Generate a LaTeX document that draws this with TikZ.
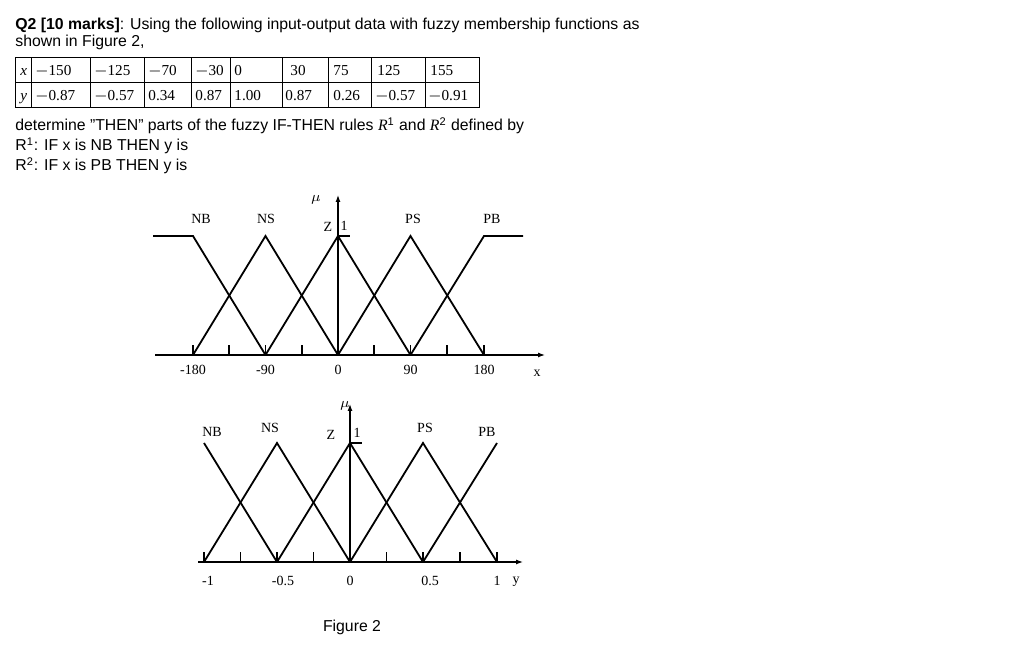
\documentclass[tikz,border=0pt]{standalone}
\usepackage{fontspec}
\setmainfont{Liberation Sans}
\newfontfamily\tnr{Liberation Serif}
\begin{document}
\begin{tikzpicture}[x=0.5pt, y=-0.5pt,
  txt/.style={anchor=base west, inner sep=0pt, font=\fontsize{7.9}{9}\selectfont},
  cell/.style={inner sep=0pt, anchor=base west, font=\tnr\fontsize{7.6}{9}\selectfont},
  mf/.style={line width=0.9pt},
  ax/.style={line width=0.6pt, -{Latex[length=3.5pt,width=2.5pt]}},
  lab/.style={inner sep=0pt, font=\tnr\fontsize{7}{8}\selectfont}
]
\useasboundingbox (0,0) rectangle (1024,656);
\usetikzlibrary{arrows.meta}
% --- question text ---
\node[txt] (l1) at (15,30) {\textbf{Q2 [10 marks]}: Using the following input-output data with fuzzy membership functions as};
\node[txt] (l2) at (15,47) {shown in Figure 2,};
\node[txt] (l3) at (15,131) {determine "THEN" parts of the fuzzy IF-THEN rules {\tnr\itshape R}$^{\mathrm{1}}$ and {\tnr\itshape R}$^{\mathrm{2}}$ defined by};
\node[txt] (l4) at (15,151) {R$^{\mathrm{1}}$: IF x is NB THEN y is};
\node[txt] (l5) at (15,171) {R$^{\mathrm{2}}$: IF x is PB THEN y is};
% --- table ---
\draw[line width=0.5pt] (15,58) rectangle (479,108);
\draw[line width=0.5pt] (15,83) -- (479,83);
\foreach \c in {31,90,144,191,230,282,328,371,425}
  \draw[line width=0.5pt] (\c,58) -- (\c,108);
\node[cell] (x0) at (20,76) {\itshape x};
\node[cell] (y0) at (20,101) {\itshape y};
\foreach \c/\v in {35/$-$150,94/$-$125,148/$-$70,195/$-$30,234/0,290/30,333/75,377/125,430/155}
  \node[cell] at (\c,76) {\v};
\foreach \c/\v in {35/$-$0.87,94/$-$0.57,148/0.34,195/0.87,234/1.00,285/0.87,333/0.26,375/$-$0.57,428/$-$0.91}
  \node[cell] at (\c,101) {\v};
% --- input membership functions ---
\coordinate (o1) at (338,355);
\foreach \n/\xx in {m2/193,m1/265.5,z/338,p1/410.5,p2/484} {
  \coordinate (\n b) at (\xx,355);
  \coordinate (\n t) at (\xx,236);
}
\coordinate (lft) at (153,236);
\coordinate (rgt) at (523,236);
\draw[mf] (lft) -- (m2t) -- (m1b);
\draw[mf] (m2b) -- (m1t) -- (zb);
\draw[mf] (m1b) -- (zt) -- (p1b);
\draw[mf] (zb) -- (p1t) -- (p2b);
\draw[mf] (p1b) -- (p2t) -- (rgt);
\draw[ax] (155,355) -- (545,355);
\draw[ax] (o1) -- (338,195);
\draw[line width=0.6pt] (338,236) -- (350,236);
\foreach \xx in {193,229,265.5,302,374,410.5,447,484}
  \draw[line width=0.6pt] (\xx,355) -- (\xx,345);
\foreach \xx/\t in {193/-180,265.5/-90,338/0,410.5/90,484/180}
  \node[lab] at (\xx,370) {\t};
\node[lab] (xl) at (537,373) {x};
\node[lab] (mu1) at (316,200) {$\mu$};
\foreach \xx/\t in {201/NB,266/NS,413/PS,492/PB}
  \node[lab] at (\xx,219) {\t};
\node[lab] (z1) at (328,227) {Z};
\node[lab] (one1) at (344,226) {1};
% --- output membership functions ---
\coordinate (o2) at (350,562);
\foreach \n/\xx in {a/204,b/277,c/350,d/423,e/497} {
  \coordinate (\n b) at (\xx,562);
  \coordinate (\n t) at (\xx,443);
}
\draw[mf] (at) -- (bb);
\draw[mf] (ab) -- (bt) -- (cb);
\draw[mf] (bb) -- (ct) -- (db);
\draw[mf] (cb) -- (dt) -- (eb);
\draw[mf] (db) -- (et);
\draw[ax] (198,562) -- (523,562);
\draw[ax] (o2) -- (350,404);
\draw[line width=0.6pt] (350,443) -- (362,443);
\foreach \xx in {204,240.5,277,313.5,386.5,423,460,497}
  \draw[line width=0.6pt] (\xx,562) -- (\xx,552);
\foreach \xx/\t in {208/-1,283/-0.5,350/0,430/0.5,497/1}
  \node[lab] at (\xx,581) {\t};
\node[lab] (yl) at (516,582) {y};
\node[lab] (mu2) at (345,406) {$\mu$};
\foreach \xx/\yy/\t in {212/432/NB,270/428/NS,425/428/PS,487/432/PB}
  \node[lab] at (\xx,\yy) {\t};
\node[lab] (z2) at (331,435) {Z};
\node[lab] (one2) at (357,433) {1};
\node[inner sep=0pt, font=\fontsize{7.9}{9}\selectfont] (fig) at (352,627) {Figure 2};
\end{tikzpicture}
\end{document}
